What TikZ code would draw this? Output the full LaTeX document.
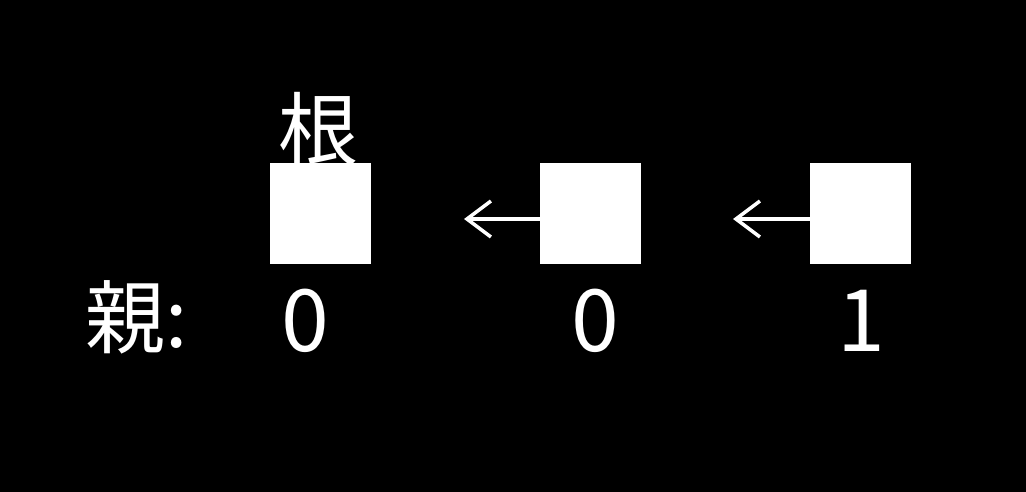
\documentclass[tikz,border=0pt]{standalone}
\usepackage{fontspec}
\setmainfont{Noto Sans CJK JP}
\usetikzlibrary{arrows.meta}
\tikzset{
  sq/.style={fill=white, draw=none, minimum width=101pt, minimum height=100pt, inner sep=0pt},
  lbl/.style={text=white, inner sep=0pt, font=\fontsize{80}{90}\selectfont},
  num/.style={text=white, inner sep=0pt, anchor=base, font=\fontsize{86}{90}\selectfont},
  link/.style={draw=white, line width=3.5pt, -{Straight Barb[length=24pt, width=36pt, line width=3.5pt]}}
}
\begin{document}
\begin{tikzpicture}[x=1pt,y=-1pt]
\fill[black] (0,0) rectangle (1026,492);
\useasboundingbox (0,0) rectangle (1026,492);
\node[sq] (b1) at (320.5,213.5) {};
\node[sq] (b2) at (590.5,213.5) {};
\node[sq] (b3) at (860.5,213.5) {};
\coordinate (t2) at (464,219);
\coordinate (t3) at (733,219);
\draw[link] (b2.west |- t2) -- (t2);
\draw[link] (b3.west |- t3) -- (t3);
\node[lbl] (root) at (318,129) {根};
\node[lbl, anchor=west] (par) at (85,317) {親:};
\node[num] (n1) at (305,351) {0};
\node[num] (n2) at (595,351) {0};
\node[num] (n3) at (861,351) {1};
\end{tikzpicture}
\end{document}
